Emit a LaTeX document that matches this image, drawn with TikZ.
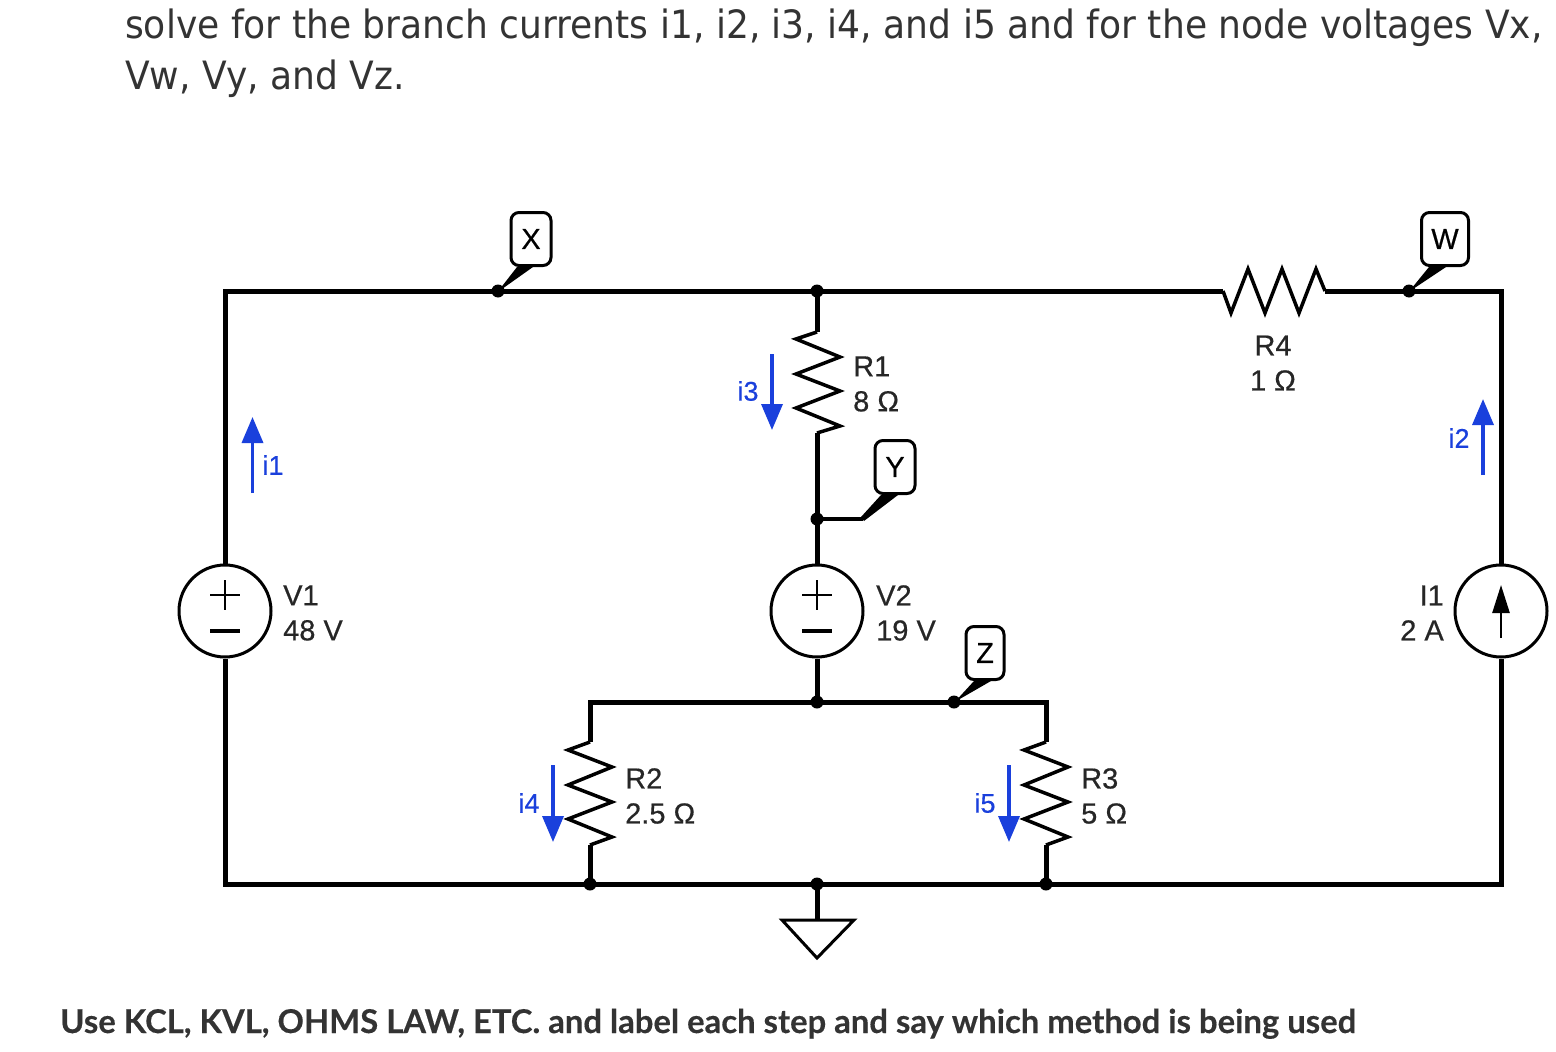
\documentclass[tikz,border=0pt]{standalone}
\usepackage{fontspec}
\setmainfont{Liberation Sans}[FakeBold=0.5]
\newfontfamily\topfont{DejaVu Sans}[FakeStretch=0.925]
\newfontfamily\endfont{Lato}[BoldFont={Lato Bold},BoldFeatures={FakeBold=0.3}]
\usetikzlibrary{arrows.meta}
\definecolor{cur}{RGB}{26,64,220}
\tikzset{
  wire/.style={line width=5pt,line join=miter},
  res/.style={line width=3.5pt,line join=miter},
  dot/.style={circle,fill=black,minimum size=13pt,inner sep=0pt},
  src/.style={circle,draw,line width=3pt,minimum size=92pt,inner sep=0pt},
  tag/.style={draw,line width=3pt,rounded corners=8pt,inner sep=0pt,
    minimum height=53pt,font=\fontsize{29}{29}\selectfont},
  lab/.style={inner sep=0pt,align=left,anchor=west,
    font=\fontsize{29}{35}\selectfont,text=black!85},
  ilab/.style={inner sep=0pt,text=cur,font=\fontsize{27}{27}\selectfont},
  iarrow/.style={draw=cur,line width=3.5pt,
    -{Triangle[length=26pt,width=21pt,fill=cur]}},
  para/.style={inner sep=0pt,anchor=base west,text=black!80,
    font=\topfont\fontsize{39}{39}\selectfont},
}
\begin{document}
\begin{tikzpicture}[x=1pt,y=-1pt]
\useasboundingbox (0,0) rectangle (1556,1052);

% text above and below
\node[para] (t1) at (125,38) {solve for the branch currents i1, i2, i3, i4, and i5 and for the node voltages Vx,};
\node[para] (t2) at (125,89) {Vw, Vy, and Vz.};
\node[inner sep=0pt,anchor=base west,text=black!80,font=\endfont\bfseries\fontsize{32.8}{33}\selectfont] (t3) at (60,1033)
  {Use KCL, KVL, OHMS LAW, ETC. and label each step and say which method is being used};

% corners and resistor ends
\coordinate (tl) at (225,291);
\coordinate (tr) at (1501,291);
\coordinate (bl) at (225,884);
\coordinate (br) at (1501,884);
\coordinate (r4a) at (1223,291);
\coordinate (r4b) at (1325,291);
\coordinate (r1a) at (817,332);
\coordinate (r1b) at (817,433);
\coordinate (bus2) at (590,702);
\coordinate (bus3) at (1046,702);
\coordinate (r2a) at (590,742);
\coordinate (r2b) at (590,845);
\coordinate (r3a) at (1046,742);
\coordinate (r3b) at (1046,845);
\coordinate (gnd) at (817,920);
\coordinate (ybend) at (863,519);

% junctions
\node[dot] (jx) at (498,291) {};
\node[dot] (jt) at (817,291) {};
\node[dot] (jw) at (1409,291) {};
\node[dot] (jy) at (817,519) {};
\node[dot] (jm) at (817,702) {};
\node[dot] (jz) at (954,702) {};
\node[dot] (j2) at (590,884) {};
\node[dot] (jb) at (817,884) {};
\node[dot] (j3) at (1046,884) {};

% sources
\node[src] (v1) at (225,611) {};
\node[src] (v2) at (817,611) {};
\node[src] (i1) at (1501,611) {};

% wires
\draw[wire] (v1) -- (tl) -- (jx.center) -- (jt.center) -- (r4a);
\draw[wire] (r4b) -- (jw.center) -- (tr) -- (i1);
\draw[wire] (v1) -- (bl) -- (j2.center) -- (jb.center) -- (j3.center) -- (br) -- (i1);
\draw[wire] (jt.center) -- (r1a);
\draw[wire] (r1b) -- (jy.center) -- (v2);
\draw[wire] (v2) -- (jm.center);
\draw[wire] (r2a) -- (bus2) -- (jm.center) -- (jz.center) -- (bus3) -- (r3a);
\draw[wire] (r2b) -- (j2.center);
\draw[wire] (r3b) -- (j3.center);
\draw[wire] (jb.center) -- (gnd);

% resistors
\draw[res] (r1a) -- (796,339) -- (840,357) -- (796,374) -- (840,391) -- (796,408) -- (840,426) -- (r1b);
\draw[res] (r2a) -- (568,750) -- (612,767) -- (568,785) -- (612,802) -- (568,819) -- (612,837) -- (r2b);
\draw[res] (r3a) -- (1024,750) -- (1068,767) -- (1024,785) -- (1068,802) -- (1024,819) -- (1068,837) -- (r3b);
\draw[res] (r4a) -- (1231,313) -- (1248,269) -- (1265,313) -- (1282,269) -- (1299,313) -- (1316,269) -- (r4b);

% ground
\draw[line width=3pt,line join=miter] (782,920) -- (854,920) -- (817,958) -- cycle;

% source marks
\foreach \s in {v1,v2}{
  \draw[line width=2.5pt] ([shift={(-15,-16)}]\s.center) -- ([shift={(15,-16)}]\s.center);
  \draw[line width=2.5pt] ([shift={(0,-31)}]\s.center) -- ([shift={(0,-1)}]\s.center);
  \draw[line width=4pt] ([shift={(-15,20)}]\s.center) -- ([shift={(15,20)}]\s.center);
}
\draw[line width=2.5pt,-{Triangle[length=28pt,width=17pt]}] ([shift={(0,27)}]i1.center) -- ([shift={(0,-26)}]i1.center);

% node tags
\node[tag,minimum width=40pt] (tx) at (531,239) {\raisebox{-3pt}{X}};
\node[tag,minimum width=40pt] (ty) at (895,467) {\raisebox{-3pt}{Y}};
\node[tag,minimum width=38pt] (tz) at (985,653) {\raisebox{-2pt}{Z}};
\node[tag,minimum width=47pt] (tw) at (1445,239) {\raisebox{-2pt}{W}};
\fill ([shift={(-2,3)}]jx.center) -- ([xshift=-14pt]tx.south) -- ([xshift=2pt]tx.south) -- ([shift={(4,-2)}]jx.center) -- cycle;
\fill ([shift={(-2,3)}]jw.center) -- ([xshift=-16pt]tw.south) -- ([xshift=1pt]tw.south) -- ([shift={(4,-2)}]jw.center) -- cycle;
\fill ([shift={(-2,3)}]jz.center) -- ([xshift=-11pt]tz.south) -- ([xshift=6pt]tz.south) -- ([shift={(4,-2)}]jz.center) -- cycle;
\draw[line width=3.5pt] (jy.center) -- (ybend);
\fill ([shift={(-2,-2)}]ybend) -- ([xshift=-14pt]ty.south) -- ([xshift=3pt]ty.south) -- ([shift={(1,2)}]ybend) -- cycle;

% component labels
\node[lab] (lv1) at (283,613) {V1\\48 V};
\node[lab] (lv2) at (876,613) {V2\\19 V};
\node[lab] (lr1) at (853,384) {R1\\8 Ω};
\node[lab] (lr2) at (625,796) {R2\\2.5 Ω};
\node[lab] (lr3) at (1081,796) {R3\\5 Ω};
\node[lab,align=center,anchor=center] (lr4) at (1273,363) {R4\\1 Ω};
\node[lab,align=right,anchor=east] (li1) at (1444,613) {I1\\2 A};

% current arrows
\coordinate (a1s) at (252.5,493); \coordinate (a1e) at (252.5,417);
\coordinate (a2s) at (1483,475); \coordinate (a2e) at (1483,399);
\coordinate (a3s) at (772,354); \coordinate (a3e) at (772,430);
\coordinate (a4s) at (553,765); \coordinate (a4e) at (553,842);
\coordinate (a5s) at (1009,765); \coordinate (a5e) at (1009,842);
\draw[iarrow] (a1s) -- (a1e);
\draw[iarrow] (a2s) -- (a2e);
\draw[iarrow] (a3s) -- (a3e);
\draw[iarrow] (a4s) -- (a4e);
\draw[iarrow] (a5s) -- (a5e);
\node[ilab] (n1) at (273,465) {i1};
\node[ilab] (n2) at (1459,438) {i2};
\node[ilab] (n3) at (748,391) {i3};
\node[ilab] (n4) at (529,803) {i4};
\node[ilab] (n5) at (985,803) {i5};
\end{tikzpicture}
\end{document}
